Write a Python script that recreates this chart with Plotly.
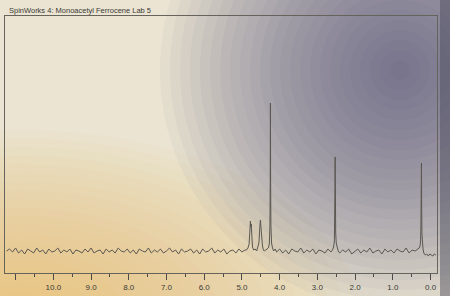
import plotly.graph_objects as go

# ---------------- data ----------------
title_text = "SpinWorks 4: Monoacetyl Ferrocene Lab 5"

base1_ppm = [11.24, 11.16, 11.08, 11.00, 10.92, 10.84, 10.76, 10.68, 10.60, 10.52,
             10.44, 10.36, 10.28, 10.20, 10.12, 10.04, 9.96, 9.88, 9.80, 9.72,
             9.64, 9.56, 9.48, 9.40, 9.32, 9.24, 9.16, 9.08, 9.00, 8.92,
             8.84, 8.76, 8.68, 8.60, 8.52, 8.44, 8.36, 8.28, 8.20, 8.12,
             8.04, 7.96, 7.88, 7.80, 7.72, 7.64, 7.56, 7.48, 7.40, 7.32,
             7.24, 7.16, 7.08, 7.00, 6.92, 6.84, 6.76, 6.68, 6.60, 6.52,
             6.44, 6.36, 6.28, 6.20, 6.12, 6.04, 5.96, 5.88, 5.80, 5.72,
             5.64, 5.56, 5.48, 5.40, 5.32, 5.24, 5.16, 5.08, 5.00, 4.92]
base1_int = [0, 2, -1, 3, -2, 1, -3, 2, 0, -2,
             3, -1, 1, -3, 2, -1, 0, 3, -2, 1,
             -1, 2, -3, 1, 0, -2, 2, -1, 3, -2,
             0, 1, -3, 2, -1, 1, -2, 3, 0, -1,
             2, -2, 1, -3, 2, 0, -1, 3, -2, 1,
             -1, 2, -2, 0, 3, -1, 1, -3, 2, -1,
             0, 2, -2, 1, -3, 2, -1, 0, 3, -2,
             1, -1, 2, -3, 0, 1, -2, 2, -1, 1]

cp_ppm = [4.88, 4.84, 4.81, 4.79, 4.775, 4.765, 4.755, 4.74, 4.72, 4.69,
          4.65, 4.61, 4.58, 4.55, 4.525, 4.51, 4.50, 4.49, 4.475, 4.46,
          4.44, 4.41, 4.37, 4.33, 4.30, 4.275, 4.258, 4.25, 4.245, 4.24,
          4.232, 4.215, 4.19, 4.16, 4.12]
cp_int = [1, 3, 7, 20, 30, 24, 27, 12, 4, 1,
          2, 0, 3, 8, 24, 31, 26, 18, 20, 7,
          2, 0, 1, 2, 3, 7, 25, 70, 148, 70,
          25, 8, 3, 0, 2]

base2_ppm = [4.08, 4.00, 3.92, 3.84, 3.76, 3.68, 3.60, 3.52, 3.44, 3.36,
             3.28, 3.20, 3.12, 3.04, 2.96, 2.88, 2.80, 2.72, 2.64]
base2_int = [-1, 2, -2, 1, -3, 2, 0, -1, 3, -2,
             1, -1, 2, -3, 1, 0, -2, 2, -1]

acetyl_ppm = [2.60, 2.57, 2.55, 2.54, 2.535, 2.53, 2.525, 2.515, 2.50, 2.48, 2.45]
acetyl_int = [1, 4, 10, 30, 60, 94, 45, 18, 8, 3, 0]

base3_ppm = [2.41, 2.33, 2.25, 2.17, 2.09, 2.01, 1.93, 1.85, 1.77, 1.69,
             1.61, 1.53, 1.45, 1.37, 1.29, 1.21, 1.13, 1.05, 0.97, 0.89,
             0.81, 0.73, 0.65, 0.57, 0.49, 0.41, 0.33]
base3_int = [-2, 1, -1, 2, -3, 0, 2, -2, 1, -1,
             3, -2, 0, 1, -3, 2, -1, 1, -2, 2,
             0, -1, 3, -2, 1, 0, 2]

tms_ppm = [0.30, 0.28, 0.265, 0.255, 0.248, 0.242, 0.236, 0.228, 0.215, 0.20, 0.18]
tms_int = [3, 5, 10, 30, 60, 88, 40, 16, 7, 2, -2]

base4_ppm = [0.14, 0.10, 0.06, 0.02, -0.02, -0.06, -0.10, -0.14]
base4_int = [-4, -3, -5, -3, -4, -5, -3, -4]

major_ticks = [11.0, 10.0, 9.0, 8.0, 7.0, 6.0, 5.0, 4.0, 3.0, 2.0, 1.0, 0.0]
major_labels = ["", "10.0", "9.0", "8.0", "7.0", "6.0", "5.0", "4.0", "3.0", "2.0", "1.0", "0.0"]
minor_ticks = [10.5, 9.5, 8.5, 7.5, 6.5, 5.5, 4.5, 3.5, 2.5, 1.5, 0.5]

shift_ppm = base1_ppm + cp_ppm + base2_ppm + acetyl_ppm + base3_ppm + tms_ppm + base4_ppm
intensity = base1_int + cp_int + base2_int + acetyl_int + base3_int + tms_int + base4_int

# ---------------- layout geometry ----------------
W, H = 450, 296
ML, MR, MT, MB = 5, 13, 16, 23
PW, PH = W - ML - MR, H - MT - MB


def px(xp, yp):
    return (xp - ML) / PW, (H - MB - yp) / PH


def ellipse(cx, cy, rx, ry, color):
    x0, y0 = px(cx - rx, cy + ry)
    x1, y1 = px(cx + rx, cy - ry)
    return dict(type="circle", xref="paper", yref="paper", x0=x0, x1=x1, y0=y0, y1=y1,
                fillcolor=color, line=dict(width=0), layer="below")


def rect(xa, ya, xb, yb, color):
    x0, y0 = px(xa, yb)
    x1, y1 = px(xb, ya)
    return dict(type="rect", xref="paper", yref="paper", x0=x0, x1=x1, y0=y0, y1=y1,
                fillcolor=color, line=dict(width=0), layer="below")


def glow(cx, cy, rx, ry, rgb, alpha, steps):
    out = []
    for i in range(steps):
        f = 1 - i / steps
        out.append(ellipse(cx, cy, rx * f, ry * f, "rgba(%s,%.3f)" % (rgb, alpha)))
    return out


shapes = []
# warm yellow cast, strongest at bottom left
shapes += glow(20, 320, 340, 190, "226,178,88", 0.045, 22)
# cool shadow over the upper right
shapes += glow(400, 70, 240, 240, "68,78,110", 0.045, 24)
# dark strip beyond the paper edge on the right
shapes += [rect(440, 0, 450, 296, "rgba(70,72,88,0.45)")]

fig = go.Figure()
fig.add_trace(go.Scatter(
    x=shift_ppm, y=intensity, mode="lines",
    line=dict(color="#5a5751", width=1), hoverinfo="skip", showlegend=False,
))

fig.update_layout(
    width=W, height=H,
    margin=dict(l=ML, r=MR, t=MT, b=MB),
    paper_bgcolor="#ebe4d2",
    plot_bgcolor="rgba(0,0,0,0)",
    shapes=shapes,
    showlegend=False,
    font=dict(family="Liberation Sans, Arial, sans-serif", color="#3b3a38", size=8),
    xaxis=dict(
        range=[11.28, -0.17], showgrid=False, zeroline=False,
        showline=True, mirror=True, linecolor="#66635d", linewidth=1,
        tickmode="array", tickvals=major_ticks, ticktext=major_labels,
        ticks="outside", ticklen=6, tickwidth=1, tickcolor="#4d4b47",
        tickfont=dict(size=8, color="#3b3a38"),
        minor=dict(tickvals=minor_ticks, ticks="outside", ticklen=3, tickcolor="#4d4b47"),
    ),
    yaxis=dict(
        range=[-22, 235], showgrid=False, zeroline=False, showticklabels=False,
        showline=True, mirror=True, linecolor="#66635d", linewidth=1, ticks="",
    ),
    annotations=[dict(
        text=title_text, xref="paper", yref="paper",
        x=px(7, 10)[0], y=px(7, 10)[1], xanchor="left", yanchor="middle",
        showarrow=False, font=dict(size=7.5, color="#3a3936"),
    )],
)

fig.write_html("out.html")
